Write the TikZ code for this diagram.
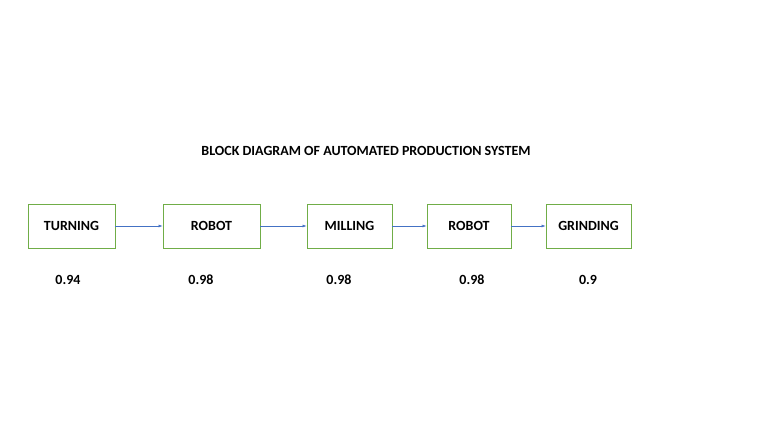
\documentclass[tikz,border=0pt]{standalone}
\usepackage{fontspec}
\setmainfont{Carlito}
\usetikzlibrary{arrows.meta}
\definecolor{boxgreen}{RGB}{112,173,71}
\definecolor{arrblue}{RGB}{68,114,196}
\tikzset{
  blk/.style={draw=boxgreen, line width=0.9pt, minimum height=44pt, font=\bfseries\fontsize{14}{16}\selectfont, inner sep=0pt},
  val/.style={font=\bfseries\fontsize{14}{16}\selectfont},
  conn/.style={draw=arrblue, line width=0.6pt, -{Latex[length=4pt,width=3pt]}}
}
\begin{document}
\begin{tikzpicture}[x=1pt,y=-1pt]
\useasboundingbox (0,0) rectangle (768,433);
\node[font=\bfseries\fontsize{14}{16}\selectfont] (title) at (366,151) {BLOCK DIAGRAM OF AUTOMATED PRODUCTION SYSTEM};
\node[blk, minimum width=87pt] (b1) at (71.5,226) {TURNING};
\node[blk, minimum width=97pt] (b2) at (211.5,226) {ROBOT};
\node[blk, minimum width=85pt] (b3) at (349.5,226) {MILLING};
\node[blk, minimum width=84pt] (b4) at (469,226) {ROBOT};
\node[blk, minimum width=85pt] (b5) at (588.5,226) {GRINDING};
\draw[conn] (b1) -- (b2);
\draw[conn] (b2) -- (b3);
\draw[conn] (b3) -- (b4);
\draw[conn] (b4) -- (b5);
\node[val] (v1) at (68,280) {0.94};
\node[val] (v2) at (201,280) {0.98};
\node[val] (v3) at (339,280) {0.98};
\node[val] (v4) at (472,280) {0.98};
\node[val] (v5) at (588,280) {0.9};
\end{tikzpicture}
\end{document}
